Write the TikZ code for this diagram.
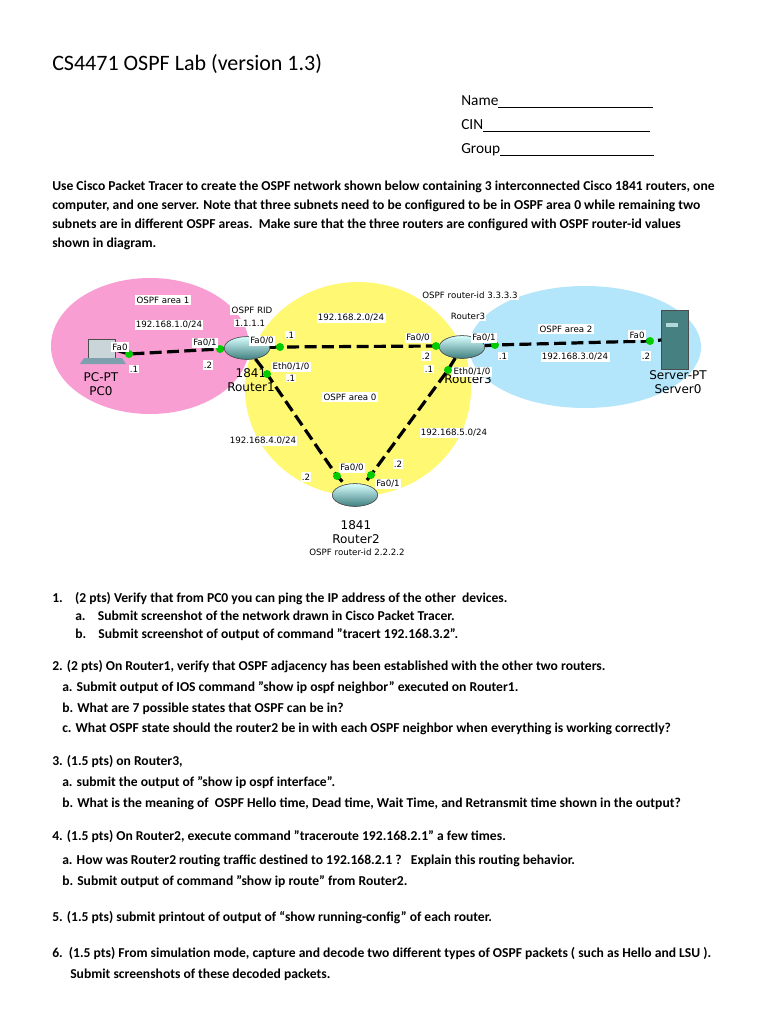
\documentclass[tikz,border=0pt]{standalone}
\usepackage{fontspec}
\usetikzlibrary{shapes.geometric}
\setmainfont{Carlito}
\newfontfamily\tah{DejaVu Sans}
\def\dq{\char34\relax}
\begin{document}
\begin{tikzpicture}[x=0.75pt,y=-0.75pt,
 lbl/.style={fill=white,inner sep=1pt,font=\tah\fontsize{6.5}{7}\selectfont},
 dev/.style={font=\tah\fontsize{9}{10}\selectfont,align=center,inner sep=0pt},
 link/.style={line width=2.4pt,dash pattern=on 9pt off 4pt},
 body/.style={anchor=base west,inner sep=0pt,font=\bfseries\fontsize{10.2}{12}\selectfont},
 field/.style={anchor=base west,inner sep=0pt,font=\fontsize{11.5}{13}\selectfont},
 rtr/.style={ellipse,draw=gray!60!black,top color=cyan!15!white,bottom color=teal!50!gray,minimum width=34pt,minimum height=17pt,inner sep=0pt}]
\useasboundingbox (0,0) rectangle (768,1024);
\fill[white] (0,0) rectangle (768,1024);
% title & fields
\node[anchor=base west,inner sep=0pt,font=\fontsize{16.5}{18}\selectfont] (title) at (52,70) {CS4471 OSPF Lab (version 1.3)};
\node[field] (nm) at (461,105) {Name\underline{\hspace{116pt}}};
\node[field] (cin) at (461,129) {CIN\underline{\hspace{125pt}}};
\node[field] (grp) at (461,153) {Group\underline{\hspace{115pt}}};
\node[body] (i1) at (52,190) {Use Cisco Packet Tracer to create the OSPF network shown below containing 3 interconnected Cisco 1841 routers, one};
\node[body] (i2) at (52,209) {computer, and one server. Note that three subnets need to be configured to be in OSPF area 0 while remaining two};
\node[body] (i3) at (52,228) {subnets are in different OSPF areas.\ \ Make sure that the three routers are configured with OSPF router-id values};
\node[body] (i4) at (52,247) {shown in diagram.};
% areas
\fill[magenta!38!white] (150,346) ellipse (99 and 68);
\fill[cyan!30!white] (585,347) ellipse (116 and 61);
\fill[yellow!55!white] (358,389) ellipse (113 and 107);
% devices
\node[rtr] (r1) at (247,348) {};
\node[rtr] (r3) at (462,347) {};
\node[rtr] (r2) at (355,495) {};
\node[draw=gray!60!black,fill=cyan!20!gray!40,minimum width=20pt,minimum height=16pt,inner sep=0pt] (pc) at (102,350) {};
\fill[gray!70!cyan] (84,358) -- (122,358) -- (126,364) -- (80,364) -- cycle;
\node[draw=gray!60!black,fill=teal!45!gray,minimum width=20pt,minimum height=44pt,inner sep=0pt] (srv) at (675,340) {};
\fill[white!70!teal] (666,323) rectangle (678,327);
\node[dev] (pcl) at (101,384) {PC-PT\\PC0};
\node[dev] (r1l) at (251,380) {1841\\Router1};
\node[dev] (r3l) at (468,379) {Router3};
\node[dev] (srvl) at (678,382) {Server-PT\\Server0};
\node[dev] (r2l) at (356,532) {1841\\Router2};
% ports
\coordinate (p0) at (129,354);
\coordinate (p11) at (220,349);
\coordinate (p10) at (280,347);
\coordinate (p1e) at (267,374);
\coordinate (p30) at (436,346);
\coordinate (p31) at (495,345);
\coordinate (p3e) at (448,370);
\coordinate (p20) at (337,476);
\coordinate (p21) at (371,475);
\coordinate (ps) at (650,341);
\draw[link] (pc.east) -- (p0) -- (p11) -- (r1);
\draw[link] (r1) -- (p10) -- (p30) -- (r3);
\draw[link] (r3) -- (p31) -- (ps) -- (srv.west);
\draw[link] (r1) -- (p1e) -- (p20) -- (r2);
\draw[link] (r3) -- (p3e) -- (p21) -- (r2);
\node[rtr] at (r1) {};
\node[rtr] at (r3) {};
\node[rtr] at (r2) {};
\foreach \p in {p0,p11,p10,p1e,p30,p31,p3e,p20,p21,ps} \fill[green!80!black] (\p) circle (3pt);
% labels
\node[lbl] at (163,300) {OSPF area 1};
\node[lbl] at (169,325) {192.168.1.0/24};
\node[lbl] at (252,310) {OSPF RID};
\node[lbl] at (250,323) {1.1.1.1};
\node[lbl] at (351,318) {192.168.2.0/24};
\node[lbl] at (470,295) {OSPF router-id 3.3.3.3};
\node[lbl] at (468,316) {Router3};
\node[lbl] at (566,329) {OSPF area 2};
\node[lbl] at (575,357) {192.168.3.0/24};
\node[lbl] at (120,347) {Fa0};
\node[lbl] at (134,369) {.1};
\node[lbl] at (205,343) {Fa0/1};
\node[lbl] at (208,365) {.2};
\node[lbl] at (262,341) {Fa0/0};
\node[lbl] at (290,335) {.1};
\node[lbl] at (291,367) {Eth0/1/0};
\node[lbl] at (291,378) {.1};
\node[lbl] at (350,397) {OSPF area 0};
\node[lbl] at (263,441) {192.168.4.0/24};
\node[lbl] at (306,477) {.2};
\node[lbl] at (352,468) {Fa0/0};
\node[lbl] at (388,484) {Fa0/1};
\node[lbl] at (398,464) {.2};
\node[lbl] at (454,433) {192.168.5.0/24};
\node[lbl] at (418,338) {Fa0/0};
\node[lbl] at (426,356) {.2};
\node[lbl] at (429,369) {.1};
\node[lbl] at (472,372) {Eth0/1/0};
\node[lbl] at (484,338) {Fa0/1};
\node[lbl] at (503,356) {.1};
\node[lbl] at (637,335) {Fa0};
\node[lbl] at (646,356) {.2};
\node[lbl] at (357,552) {OSPF router-id 2.2.2.2};
% questions
\node[body] (q1) at (52,602) {1.\ \ \ \ (2 pts) Verify that from PC0 you can ping the IP address of the other\ \ devices.};
\node[body] (q1a) at (75,620) {a.\ \ \ \ Submit screenshot of the network drawn in Cisco Packet Tracer.};
\node[body] (q1b) at (75,638) {b.\ \ \ \ Submit screenshot of output of command \dq tracert 192.168.3.2\dq.};
\node[body] (q2) at (52,670) {2. (2 pts) On Router1, verify that OSPF adjacency has been established with the other two routers.};
\node[body] (q2a) at (62,691) {a. Submit output of IOS command \dq show ip ospf neighbor\dq\ executed on Router1.};
\node[body] (q2b) at (62,712) {b. What are 7 possible states that OSPF can be in?};
\node[body] (q2c) at (62,732) {c. What OSPF state should the router2 be in with each OSPF neighbor when everything is working correctly?};
\node[body] (q3) at (52,765) {3. (1.5 pts) on Router3,};
\node[body] (q3a) at (62,786) {a. submit the output of \dq show ip ospf interface\dq.};
\node[body] (q3b) at (62,807) {b. What is the meaning of\ \ OSPF Hello time, Dead time, Wait Time, and Retransmit time shown in the output?};
\node[body] (q4) at (52,840) {4. (1.5 pts) On Router2, execute command \dq traceroute 192.168.2.1\dq\ a few times.};
\node[body] (q4a) at (62,864) {a. How was Router2 routing traffic destined to 192.168.2.1 ?\ \ \ Explain this routing behavior.};
\node[body] (q4b) at (62,885) {b. Submit output of command \dq show ip route\dq\ from Router2.};
\node[body] (q5) at (52,921) {5. (1.5 pts) submit printout of output of “show running-config” of each router.};
\node[body] (q6) at (52,957) {6.\ \ (1.5 pts) From simulation mode, capture and decode two different types of OSPF packets ( such as Hello and LSU ).};
\node[body] (q6b) at (70,978) {Submit screenshots of these decoded packets.};
\end{tikzpicture}
\end{document}
